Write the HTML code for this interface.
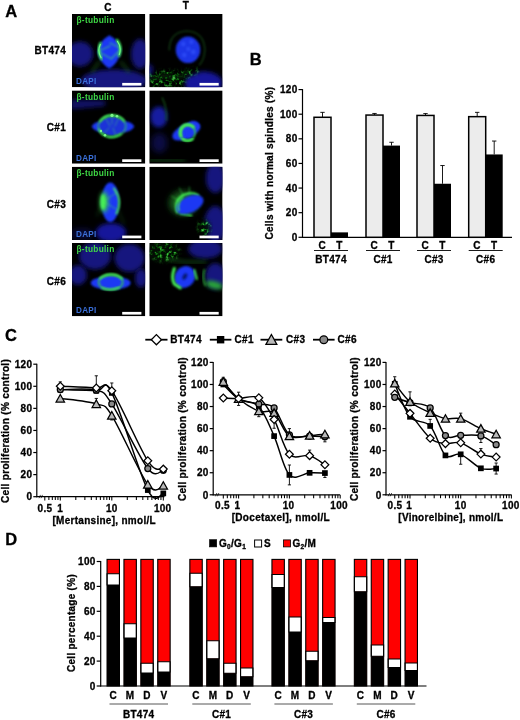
<!DOCTYPE html>
<html lang="en"><head><meta charset="utf-8"><title>Figure</title>
<style>html,body{margin:0;padding:0;background:#fff}svg{display:block}text{font-family:"Liberation Sans",Arial,Helvetica,sans-serif;font-weight:bold;stroke:#000;stroke-width:0.3px;letter-spacing:0.3px}</style>
</head><body>
<svg width="520" height="720" viewBox="0 0 520 720">
<rect width="520" height="720" fill="#fff"/>
<defs>
<filter id="b1" x="-50%" y="-50%" width="200%" height="200%"><feGaussianBlur stdDeviation="1"/></filter>
<filter id="b2" x="-50%" y="-50%" width="200%" height="200%"><feGaussianBlur stdDeviation="2"/></filter>
<filter id="b3" x="-50%" y="-50%" width="200%" height="200%"><feGaussianBlur stdDeviation="3"/></filter>
<filter id="b4" x="-50%" y="-50%" width="200%" height="200%"><feGaussianBlur stdDeviation="4.5"/></filter>
<filter id="b08" x="-50%" y="-50%" width="200%" height="200%"><feGaussianBlur stdDeviation="0.85"/></filter>
<filter id="spk" x="-20%" y="-20%" width="140%" height="140%" color-interpolation-filters="sRGB"><feGaussianBlur in="SourceGraphic" stdDeviation="2" result="m"/><feTurbulence type="fractalNoise" baseFrequency="0.3" numOctaves="2" seed="7" result="n"/><feColorMatrix in="n" type="matrix" values="0 1.6 0 0 -0.92  0 3.0 0 0 -1.38  0 1.6 0 0 -0.92  0 0 0 0 1" result="c"/><feGaussianBlur in="c" stdDeviation="0.6" result="cb"/><feComposite in="cb" in2="m" operator="in"/></filter>
<filter id="b05" x="-50%" y="-50%" width="200%" height="200%"><feGaussianBlur stdDeviation="0.6"/></filter>
</defs>
<text x="5.2" y="17.2" font-size="16.5" text-anchor="start" fill="#000" >A</text>
<text x="108" y="11" font-size="10" text-anchor="middle" fill="#000" >C</text>
<text x="186" y="9" font-size="10" text-anchor="middle" fill="#000" >T</text>
<text x="66" y="53.8" font-size="10" text-anchor="end" fill="#000" >BT474</text>
<text x="66" y="131.4" font-size="10" text-anchor="end" fill="#000" >C#1</text>
<text x="66" y="208.29999999999998" font-size="10" text-anchor="end" fill="#000" >C#3</text>
<text x="66" y="284.5" font-size="10" text-anchor="end" fill="#000" >C#6</text>
<clipPath id="tc"><rect x="0" y="0" width="73.3" height="73.3"/></clipPath>
<g transform="translate(72,14)" clip-path="url(#tc)">
<rect x="0" y="0" width="73.3" height="73.3" fill="#000"/>
<g transform="translate(0,0)">
<ellipse cx="8" cy="40" rx="13" ry="12.5" fill="#13187e" opacity="1" filter="url(#b2)"/>
<ellipse cx="68" cy="40" rx="9" ry="15" fill="#13187e" opacity="1" filter="url(#b2)"/>
<ellipse cx="42" cy="66.5" rx="33" ry="11" fill="#13187e" opacity="1" filter="url(#b2)"/>
<path d="M27,48 L20,58" fill="none" stroke="#1f6a22" stroke-width="2" opacity="0.8" filter="url(#b2)" stroke-linecap="round" stroke-linejoin="round"/>
<path d="M49,48 L57,58" fill="none" stroke="#1f6a22" stroke-width="2" opacity="0.8" filter="url(#b2)" stroke-linecap="round" stroke-linejoin="round"/>
<path d="M37.3,22 Q47,26 48.5,36 Q46,50 37.3,54 Q29,50 26,38 Q28,26 37.3,22Z" fill="#1c38f4" stroke="#1c38f4" stroke-width="1" opacity="1" filter="url(#b1)" stroke-linecap="round" stroke-linejoin="round"/>
<path d="M28.5,29 Q24.5,37 29.5,45" fill="none" stroke="#46f056" stroke-width="2.4" opacity="1" filter="url(#b08)" stroke-linecap="round" stroke-linejoin="round"/>
<path d="M45,26 Q50.5,33 47,42" fill="none" stroke="#46f056" stroke-width="2.4" opacity="1" filter="url(#b08)" stroke-linecap="round" stroke-linejoin="round"/>
<path d="M28.3,30.5 Q25.2,37 29,43.5" fill="none" stroke="#78ff88" stroke-width="1.2" opacity="1" filter="url(#b05)" stroke-linecap="round" stroke-linejoin="round"/>
<path d="M45.5,27.5 Q49.8,33 47.3,40.5" fill="none" stroke="#78ff88" stroke-width="1.2" opacity="1" filter="url(#b05)" stroke-linecap="round" stroke-linejoin="round"/>
<path d="M27,37 L38,32 M27,38 L38,44 M48,34 L38,29 M48,36 L39,45" fill="none" stroke="#46f056" stroke-width="1.2" opacity="0.6" filter="url(#b08)" stroke-linecap="round" stroke-linejoin="round"/>
</g>
<text x="4.5" y="9.3" font-size="9" text-anchor="start" fill="#3fd845" textLength="38" lengthAdjust="spacingAndGlyphs" filter="url(#b05)" style="stroke:none">β-tubulin</text>
<text x="4" y="70.3" font-size="9" text-anchor="start" fill="#3a6fd8" textLength="20.5" lengthAdjust="spacingAndGlyphs" filter="url(#b05)" style="stroke:none">DAPI</text>
<rect x="50.2" y="68.9" width="19.2" height="2.7" fill="#fff"/>
</g>
<g transform="translate(149.3,14)" clip-path="url(#tc)">
<rect x="0" y="0" width="73.3" height="73.3" fill="#000"/>
<g transform="translate(0,0)">
<ellipse cx="54" cy="69" rx="19" ry="11.5" fill="#14199a" opacity="1" filter="url(#b2)"/>
<ellipse cx="0" cy="57" rx="4" ry="7" fill="#13187e" opacity="0.9" filter="url(#b2)"/>
<path d="M20,36 Q20,18 37.5,17 Q55,18 55.5,36 Q55,46 50,51" fill="none" stroke="#2a8a2e" stroke-width="1.2" opacity="0.5" filter="url(#b1)" stroke-linecap="round" stroke-linejoin="round"/>
<ellipse cx="38.7" cy="35.8" rx="12.3" ry="13.3" fill="#1a34e6" opacity="1" filter="url(#b1)"/>
<g fill="#3858ff" filter="url(#b1)" opacity="0.6"><circle cx="34" cy="30" r="2.2"/><circle cx="42" cy="28" r="2"/><circle cx="44" cy="38" r="2.4"/><circle cx="35" cy="41" r="2.2"/><circle cx="39" cy="35" r="2"/></g>
<path d="M0,60 L14,57 L30,58 L48,54 L50,58 L36,64 L34,73 L0,73Z" fill="#fff" filter="url(#spk)" opacity="0.72"/>
<path d="M0,66 L14,62 L28,64 L40,58" fill="none" stroke="#1f6a22" stroke-width="3" opacity="0.45" filter="url(#b2)" stroke-linecap="round" stroke-linejoin="round"/>
</g>
<rect x="50.2" y="68.9" width="19.2" height="2.7" fill="#fff"/>
</g>
<g transform="translate(72,90.4)" clip-path="url(#tc)">
<rect x="0" y="0" width="73.3" height="73.3" fill="#000"/>
<g transform="translate(0,-0.4)">
<path d="M0,10 L30,11 Q38,13 30,16 L0,19Z" fill="#13187e" stroke="#13187e" stroke-width="1" opacity="0.8" filter="url(#b2)" stroke-linecap="round" stroke-linejoin="round"/>
<ellipse cx="41" cy="36.6" rx="21" ry="6.8" fill="#1c38f4" opacity="1" filter="url(#b1)"/>
<ellipse cx="40" cy="36" rx="12.5" ry="10" fill="#1a30d8" opacity="1" filter="url(#b1)"/>
<ellipse cx="40" cy="36.3" rx="13.7" ry="10.9" fill="none" stroke="#38c846" stroke-width="1.5" opacity="0.75" filter="url(#b1)"/>
<path d="M28,31.5 Q32,25.7 40,25.3 Q48,25.7 52,31" fill="none" stroke="#46f056" stroke-width="2.0" opacity="1" filter="url(#b08)" stroke-linecap="round" stroke-linejoin="round"/>
<path d="M27,39.5 Q29,45 37,47 Q44,47.5 49,43.8" fill="none" stroke="#46f056" stroke-width="1.8" opacity="1" filter="url(#b08)" stroke-linecap="round" stroke-linejoin="round"/>
<path d="M33,27 L38,36 M40,25 L40,34 M47,27 L43,36 M31,44 L37,38 M44,46 L41,38" fill="none" stroke="#46f056" stroke-width="0.9" opacity="0.5" filter="url(#b08)" stroke-linecap="round" stroke-linejoin="round"/>
<g fill="#7cf88a" filter="url(#b05)"><circle cx="40" cy="25.4" r="1.6"/><circle cx="45" cy="26.2" r="1.3"/><circle cx="33" cy="45.3" r="1.3"/><circle cx="29" cy="41" r="1.2"/></g>
</g>
<text x="4.5" y="9.3" font-size="9" text-anchor="start" fill="#3fd845" textLength="38" lengthAdjust="spacingAndGlyphs" filter="url(#b05)" style="stroke:none">β-tubulin</text>
<text x="4" y="70.3" font-size="9" text-anchor="start" fill="#3a6fd8" textLength="20.5" lengthAdjust="spacingAndGlyphs" filter="url(#b05)" style="stroke:none">DAPI</text>
<rect x="50.2" y="68.9" width="19.2" height="2.7" fill="#fff"/>
</g>
<g transform="translate(149.3,90.4)" clip-path="url(#tc)">
<rect x="0" y="0" width="73.3" height="73.3" fill="#000"/>
<g transform="translate(0,-0.4)">
<ellipse cx="9.5" cy="27" rx="8.5" ry="10.5" fill="#161ca0" opacity="1" filter="url(#b2)"/>
<ellipse cx="10" cy="53" rx="8" ry="10" fill="#13187e" opacity="0.55" filter="url(#b3)"/>
<path d="M13,8 Q18,18 17,30" fill="none" stroke="#1f6a22" stroke-width="1.5" opacity="0.7" filter="url(#b1)" stroke-linecap="round" stroke-linejoin="round"/>
<path d="M0,70 L35,71" fill="none" stroke="#1f6a22" stroke-width="2.5" opacity="0.7" filter="url(#b2)" stroke-linecap="round" stroke-linejoin="round"/>
<ellipse cx="37" cy="41.5" rx="15" ry="7" fill="#1c38f4" opacity="1" filter="url(#b1)" transform="rotate(-25 37 41.5)"/>
<ellipse cx="44" cy="36" rx="6" ry="5" fill="#1c38f4" opacity="1" filter="url(#b1)"/>
<ellipse cx="38.2" cy="42.7" rx="7.3" ry="8" fill="none" stroke="#3ad048" stroke-width="2.0" opacity="0.9" filter="url(#b1)"/>
<path d="M31.5,46 Q29.5,39 35,35.5 Q40,33.5 44,37" fill="none" stroke="#46f056" stroke-width="3" opacity="1" filter="url(#b08)" stroke-linecap="round" stroke-linejoin="round"/>
<path d="M33,49 Q38,52.5 43,49" fill="none" stroke="#46f056" stroke-width="2.6" opacity="1" filter="url(#b08)" stroke-linecap="round" stroke-linejoin="round"/>
<ellipse cx="39.5" cy="43" rx="4.6" ry="5.2" fill="#1c38f4" opacity="1" filter="url(#b1)"/>
</g>
<rect x="50.2" y="68.9" width="19.2" height="2.7" fill="#fff"/>
</g>
<g transform="translate(72,166.7)" clip-path="url(#tc)">
<rect x="0" y="0" width="73.3" height="73.3" fill="#000"/>
<g transform="translate(0,-0.7)">
<ellipse cx="39" cy="66.5" rx="15" ry="9.5" fill="#14199a" opacity="1" filter="url(#b2)"/>
<ellipse cx="10" cy="68" rx="12" ry="5" fill="#13187e" opacity="0.5" filter="url(#b3)"/>
<path d="M33,30 L25,50 M46,44 L52,58" fill="none" stroke="#1f6a22" stroke-width="1.5" opacity="0.5" filter="url(#b2)" stroke-linecap="round" stroke-linejoin="round"/>
<ellipse cx="38.3" cy="36.2" rx="8.8" ry="19.8" fill="#1c38f4" opacity="1" filter="url(#b1)"/>
<ellipse cx="32" cy="36" rx="4.2" ry="10.5" fill="#3ad048" opacity="0.9" filter="url(#b2)"/>
<ellipse cx="31" cy="36" rx="2.4" ry="7.5" fill="#46f056" opacity="1" filter="url(#b1)"/>
<path d="M42,22.5 Q51,34.5 44.5,47.5" fill="none" stroke="#46f056" stroke-width="1.9" opacity="1" filter="url(#b08)" stroke-linecap="round" stroke-linejoin="round"/>
<path d="M32,35 L44,27 M32,36 L44,43" fill="none" stroke="#46f056" stroke-width="1" opacity="0.5" filter="url(#b1)" stroke-linecap="round" stroke-linejoin="round"/>
</g>
<text x="4.5" y="9.3" font-size="9" text-anchor="start" fill="#3fd845" textLength="38" lengthAdjust="spacingAndGlyphs" filter="url(#b05)" style="stroke:none">β-tubulin</text>
<text x="4" y="70.3" font-size="9" text-anchor="start" fill="#3a6fd8" textLength="20.5" lengthAdjust="spacingAndGlyphs" filter="url(#b05)" style="stroke:none">DAPI</text>
<rect x="50.2" y="68.9" width="19.2" height="2.7" fill="#fff"/>
</g>
<g transform="translate(149.3,166.7)" clip-path="url(#tc)">
<rect x="0" y="0" width="73.3" height="73.3" fill="#000"/>
<g transform="translate(0,-0.7)">
<ellipse cx="66" cy="12" rx="9.5" ry="15" fill="#13187e" opacity="1" filter="url(#b2)"/>
<ellipse cx="66" cy="58" rx="11" ry="18" fill="#13187e" opacity="1" filter="url(#b2)"/>
<ellipse cx="55" cy="62" rx="5" ry="6" fill="#1f6a22" opacity="0.5" filter="url(#b2)"/>
<ellipse cx="55" cy="62" rx="6" ry="8" fill="#fff" filter="url(#spk)" opacity="0.8"/>
<ellipse cx="34" cy="37" rx="14" ry="12" fill="#1f6a22" opacity="0.9" filter="url(#b3)"/>
<path d="M28,46.5 Q24,35 34,29 Q43,25.5 49,29.5" fill="none" stroke="#46f056" stroke-width="2.2" opacity="1" filter="url(#b1)" stroke-linecap="round" stroke-linejoin="round"/>
<path d="M31,47.5 L42,49.5" fill="none" stroke="#46f056" stroke-width="2.2" opacity="0.9" filter="url(#b1)" stroke-linecap="round" stroke-linejoin="round"/>
<path d="M22,30 L30,35 M30,22 L34,30 M40,21 L40,28" fill="none" stroke="#46f056" stroke-width="1" opacity="0.5" filter="url(#b1)" stroke-linecap="round" stroke-linejoin="round"/>
<ellipse cx="40.5" cy="38.5" rx="14.5" ry="8.3" fill="#1c38f4" opacity="1" filter="url(#b1)" transform="rotate(-25 40.5 38.5)"/>
<path d="M29.5,44.5 Q27.5,36.5 33.5,31.5" fill="none" stroke="#46f056" stroke-width="1.6" opacity="0.95" filter="url(#b08)" stroke-linecap="round" stroke-linejoin="round"/>
</g>
<rect x="50.2" y="68.9" width="19.2" height="2.7" fill="#fff"/>
</g>
<g transform="translate(72,243)" clip-path="url(#tc)">
<rect x="0" y="0" width="73.3" height="73.3" fill="#000"/>
<g transform="translate(0,-1.0)">
<ellipse cx="23" cy="14" rx="16" ry="13.5" fill="#13187e" opacity="1" filter="url(#b2)"/>
<ellipse cx="57.5" cy="16" rx="15" ry="14" fill="#13187e" opacity="1" filter="url(#b2)"/>
<ellipse cx="6" cy="33" rx="9" ry="10" fill="#13187e" opacity="1" filter="url(#b2)"/>
<ellipse cx="69" cy="36" rx="6" ry="9.5" fill="#13187e" opacity="1" filter="url(#b2)"/>
<ellipse cx="38.7" cy="41" rx="20" ry="6.6" fill="#1c38f4" opacity="1" filter="url(#b1)"/>
<ellipse cx="38.7" cy="40.5" rx="11" ry="7" fill="#1c38f4" opacity="1" filter="url(#b1)"/>
<ellipse cx="38.7" cy="40.2" rx="12.0" ry="7.6" fill="none" stroke="#3ad048" stroke-width="1.6" opacity="0.9" filter="url(#b1)"/>
<path d="M28,36.5 Q33,32.5 39,32.5 Q46,32.5 50,36.5" fill="none" stroke="#46f056" stroke-width="2.0" opacity="1" filter="url(#b08)" stroke-linecap="round" stroke-linejoin="round"/>
<path d="M30,46 Q38,49.5 47,45.5" fill="none" stroke="#46f056" stroke-width="1.8" opacity="1" filter="url(#b08)" stroke-linecap="round" stroke-linejoin="round"/>
</g>
<text x="4.5" y="9.3" font-size="9" text-anchor="start" fill="#3fd845" textLength="38" lengthAdjust="spacingAndGlyphs" filter="url(#b05)" style="stroke:none">β-tubulin</text>
<text x="4" y="70.3" font-size="9" text-anchor="start" fill="#3a6fd8" textLength="20.5" lengthAdjust="spacingAndGlyphs" filter="url(#b05)" style="stroke:none">DAPI</text>
<rect x="50.2" y="68.9" width="19.2" height="2.7" fill="#fff"/>
</g>
<g transform="translate(149.3,243)" clip-path="url(#tc)">
<rect x="0" y="0" width="73.3" height="73.3" fill="#000"/>
<g transform="translate(0,-1.0)">
<ellipse cx="56" cy="7" rx="17" ry="9.5" fill="#13187e" opacity="1" filter="url(#b2)"/>
<ellipse cx="66" cy="34" rx="10" ry="13" fill="#13187e" opacity="1" filter="url(#b2)"/>
<ellipse cx="14" cy="10" rx="14" ry="8" fill="#1f6a22" opacity="0.45" filter="url(#b3)"/>
<ellipse cx="15" cy="10" rx="15" ry="9" fill="#fff" filter="url(#spk)" opacity="0.7"/>
<path d="M18,17 L35,20 L56,20" fill="none" stroke="#1f6a22" stroke-width="2.5" opacity="0.7" filter="url(#b2)" stroke-linecap="round" stroke-linejoin="round"/>
<ellipse cx="65" cy="43" rx="9" ry="3.5" fill="#2cb032" opacity="1" filter="url(#b2)" transform="rotate(15 65 43)"/>
<path d="M55,28 Q52.5,36 56,43" fill="none" stroke="#2a9a30" stroke-width="2" opacity="0.9" filter="url(#b1)" stroke-linecap="round" stroke-linejoin="round"/>
<ellipse cx="35.5" cy="35" rx="10" ry="11.2" fill="#1c38f4" opacity="1" filter="url(#b1)" transform="rotate(35 35.5 35)"/>
<ellipse cx="35.5" cy="34.5" rx="1.8" ry="3.5" fill="#05104a" opacity="0.85" filter="url(#b1)" transform="rotate(30 35.5 34.5)"/>
<path d="M25,26.5 Q21.5,36 25,42 L31,46" fill="none" stroke="#46f056" stroke-width="3" opacity="1" filter="url(#b1)" stroke-linecap="round" stroke-linejoin="round"/>
<path d="M45,28 L47.5,37" fill="none" stroke="#46f056" stroke-width="2.2" opacity="0.9" filter="url(#b1)" stroke-linecap="round" stroke-linejoin="round"/>
</g>
<rect x="50.2" y="68.9" width="19.2" height="2.7" fill="#fff"/>
</g>
<text x="249.7" y="65" font-size="16.5" text-anchor="start" fill="#000" >B</text>
<line x1="302.5" y1="89.08000000000001" x2="302.5" y2="237.8" stroke="#000" stroke-width="1.2" />
<line x1="302.0" y1="237.3" x2="512" y2="237.3" stroke="#000" stroke-width="1.2" />
<line x1="298.5" y1="237.3" x2="302.5" y2="237.3" stroke="#000" stroke-width="1.2" />
<text x="297.5" y="240.9" font-size="10" text-anchor="end" fill="#000" >0</text>
<line x1="298.5" y1="212.68" x2="302.5" y2="212.68" stroke="#000" stroke-width="1.2" />
<text x="297.5" y="216.28" font-size="10" text-anchor="end" fill="#000" >20</text>
<line x1="298.5" y1="188.06" x2="302.5" y2="188.06" stroke="#000" stroke-width="1.2" />
<text x="297.5" y="191.66" font-size="10" text-anchor="end" fill="#000" >40</text>
<line x1="298.5" y1="163.44" x2="302.5" y2="163.44" stroke="#000" stroke-width="1.2" />
<text x="297.5" y="167.04" font-size="10" text-anchor="end" fill="#000" >60</text>
<line x1="298.5" y1="138.82" x2="302.5" y2="138.82" stroke="#000" stroke-width="1.2" />
<text x="297.5" y="142.42" font-size="10" text-anchor="end" fill="#000" >80</text>
<line x1="298.5" y1="114.2" x2="302.5" y2="114.2" stroke="#000" stroke-width="1.2" />
<text x="297.5" y="117.8" font-size="10" text-anchor="end" fill="#000" >100</text>
<line x1="298.5" y1="89.58000000000001" x2="302.5" y2="89.58000000000001" stroke="#000" stroke-width="1.2" />
<text x="297.5" y="93.18" font-size="10" text-anchor="end" fill="#000" >120</text>
<text transform="translate(273.3,163.1) rotate(-90)" font-size="10" text-anchor="middle" textLength="153" lengthAdjust="spacingAndGlyphs">Cells with normal spindles (%)</text>
<line x1="322.5" y1="117.2775" x2="322.5" y2="112.3535" stroke="#000" stroke-width="0.9" />
<line x1="320.3" y1="112.3535" x2="324.7" y2="112.3535" stroke="#000" stroke-width="0.9" />
<rect x="314.00" y="117.28" width="17.00" height="120.02" fill="#ececec" stroke="#000" stroke-width="1.5"/>
<rect x="331.00" y="232.38" width="17.00" height="4.92" fill="#000"/>
<text x="322.3" y="249" font-size="10" text-anchor="middle" fill="#000" >C</text>
<text x="339.5" y="249" font-size="10" text-anchor="middle" fill="#000" >T</text>
<line x1="314" y1="250.5" x2="348" y2="250.5" stroke="#000" stroke-width="0.9" />
<text x="331" y="263.3" font-size="10" text-anchor="middle" fill="#000" >BT474</text>
<line x1="374.5" y1="115.0617" x2="374.5" y2="113.46140000000001" stroke="#000" stroke-width="0.9" />
<line x1="372.3" y1="113.46140000000001" x2="376.7" y2="113.46140000000001" stroke="#000" stroke-width="0.9" />
<rect x="366.00" y="115.06" width="17.00" height="122.24" fill="#ececec" stroke="#000" stroke-width="1.5"/>
<line x1="391.5" y1="145.59050000000002" x2="391.5" y2="142.2668" stroke="#000" stroke-width="0.9" />
<line x1="389.3" y1="142.2668" x2="393.7" y2="142.2668" stroke="#000" stroke-width="0.9" />
<rect x="383.00" y="145.59" width="17.00" height="91.71" fill="#000"/>
<text x="374.3" y="249" font-size="10" text-anchor="middle" fill="#000" >C</text>
<text x="391.5" y="249" font-size="10" text-anchor="middle" fill="#000" >T</text>
<line x1="366" y1="250.5" x2="400" y2="250.5" stroke="#000" stroke-width="0.9" />
<text x="383" y="263.3" font-size="10" text-anchor="middle" fill="#000" >C#1</text>
<line x1="425.5" y1="115.431" x2="425.5" y2="113.5845" stroke="#000" stroke-width="0.9" />
<line x1="423.3" y1="113.5845" x2="427.7" y2="113.5845" stroke="#000" stroke-width="0.9" />
<rect x="417.00" y="115.43" width="17.00" height="121.87" fill="#ececec" stroke="#000" stroke-width="1.5"/>
<line x1="442.5" y1="183.75150000000002" x2="442.5" y2="165.5327" stroke="#000" stroke-width="0.9" />
<line x1="440.3" y1="165.5327" x2="444.7" y2="165.5327" stroke="#000" stroke-width="0.9" />
<rect x="434.00" y="183.75" width="17.00" height="53.55" fill="#000"/>
<text x="425.3" y="249" font-size="10" text-anchor="middle" fill="#000" >C</text>
<text x="442.5" y="249" font-size="10" text-anchor="middle" fill="#000" >T</text>
<line x1="417" y1="250.5" x2="451" y2="250.5" stroke="#000" stroke-width="0.9" />
<text x="434" y="263.3" font-size="10" text-anchor="middle" fill="#000" >C#3</text>
<line x1="477.2" y1="116.662" x2="477.2" y2="112.3535" stroke="#000" stroke-width="0.9" />
<line x1="475.0" y1="112.3535" x2="479.4" y2="112.3535" stroke="#000" stroke-width="0.9" />
<rect x="468.70" y="116.66" width="17.00" height="120.64" fill="#ececec" stroke="#000" stroke-width="1.5"/>
<line x1="494.2" y1="154.45370000000003" x2="494.2" y2="141.0358" stroke="#000" stroke-width="0.9" />
<line x1="492.0" y1="141.0358" x2="496.4" y2="141.0358" stroke="#000" stroke-width="0.9" />
<rect x="485.70" y="154.45" width="17.00" height="82.85" fill="#000"/>
<text x="477.0" y="249" font-size="10" text-anchor="middle" fill="#000" >C</text>
<text x="494.2" y="249" font-size="10" text-anchor="middle" fill="#000" >T</text>
<line x1="468.7" y1="250.5" x2="502.7" y2="250.5" stroke="#000" stroke-width="0.9" />
<text x="485.7" y="263.3" font-size="10" text-anchor="middle" fill="#000" >C#6</text>
<text x="5" y="341" font-size="16.5" text-anchor="start" fill="#000" >C</text>
<line x1="145.3" y1="339.7" x2="167.5" y2="339.7" stroke="#000" stroke-width="1.8" />
<path d="M151.33,339.70L156.40,334.63L161.47,339.70L156.40,344.77Z" fill="#fff" stroke="#000" stroke-width="1.25"/>
<text x="170.3" y="343.3" font-size="10" text-anchor="start" fill="#000" >BT474</text>
<line x1="209.8" y1="339.7" x2="231.4" y2="339.7" stroke="#000" stroke-width="1.8" />
<rect x="216.90" y="336.00" width="7.41" height="7.41" fill="#000"/>
<text x="234.5" y="343.3" font-size="10" text-anchor="start" fill="#000" >C#1</text>
<line x1="260.5" y1="339.7" x2="282.3" y2="339.7" stroke="#000" stroke-width="1.8" />
<path d="M265.94,344.34L271.40,334.51L276.86,344.34Z" fill="#b9b9b9" stroke="#000" stroke-width="1.25"/>
<text x="286" y="343.3" font-size="10" text-anchor="start" fill="#000" >C#3</text>
<line x1="313" y1="339.7" x2="334.6" y2="339.7" stroke="#000" stroke-width="1.8" />
<circle cx="323.80" cy="339.70" r="3.90" fill="#8a8a8a" stroke="#000" stroke-width="1.25"/>
<text x="337.5" y="343.3" font-size="10" text-anchor="start" fill="#000" >C#6</text>
<line x1="36.8" y1="363.7" x2="36.8" y2="497.2" stroke="#000" stroke-width="1.2" />
<line x1="36.3" y1="496.7" x2="164.5" y2="496.7" stroke="#000" stroke-width="1.2" />
<line x1="33.3" y1="496.7" x2="36.8" y2="496.7" stroke="#000" stroke-width="1.2" />
<text x="32.3" y="500.4" font-size="10" text-anchor="end" fill="#000" >0</text>
<line x1="33.3" y1="474.6166666666667" x2="36.8" y2="474.6166666666667" stroke="#000" stroke-width="1.2" />
<text x="32.3" y="478.31666666666666" font-size="10" text-anchor="end" fill="#000" >20</text>
<line x1="33.3" y1="452.5333333333333" x2="36.8" y2="452.5333333333333" stroke="#000" stroke-width="1.2" />
<text x="32.3" y="456.2333333333333" font-size="10" text-anchor="end" fill="#000" >40</text>
<line x1="33.3" y1="430.45" x2="36.8" y2="430.45" stroke="#000" stroke-width="1.2" />
<text x="32.3" y="434.15" font-size="10" text-anchor="end" fill="#000" >60</text>
<line x1="33.3" y1="408.3666666666667" x2="36.8" y2="408.3666666666667" stroke="#000" stroke-width="1.2" />
<text x="32.3" y="412.06666666666666" font-size="10" text-anchor="end" fill="#000" >80</text>
<line x1="33.3" y1="386.2833333333333" x2="36.8" y2="386.2833333333333" stroke="#000" stroke-width="1.2" />
<text x="32.3" y="389.9833333333333" font-size="10" text-anchor="end" fill="#000" >100</text>
<line x1="33.3" y1="364.2" x2="36.8" y2="364.2" stroke="#000" stroke-width="1.2" />
<text x="32.3" y="367.9" font-size="10" text-anchor="end" fill="#000" >120</text>
<line x1="39.0" y1="498.2" x2="40.5" y2="494.9" stroke="#000" stroke-width="0.7" />
<line x1="41.0" y1="498.2" x2="42.5" y2="494.9" stroke="#000" stroke-width="0.7" />
<line x1="44.79695522330496" y1="496.7" x2="44.79695522330496" y2="500.5" stroke="#000" stroke-width="1.05" />
<line x1="48.87478939475764" y1="496.7" x2="48.87478939475764" y2="500.09999999999997" stroke="#000" stroke-width="1.05" />
<line x1="52.322549060734225" y1="496.7" x2="52.322549060734225" y2="500.09999999999997" stroke="#000" stroke-width="1.05" />
<line x1="55.309134330085094" y1="496.7" x2="55.309134330085094" y2="500.09999999999997" stroke="#000" stroke-width="1.05" />
<line x1="57.94348923612523" y1="496.7" x2="57.94348923612523" y2="500.09999999999997" stroke="#000" stroke-width="1.05" />
<line x1="60.3" y1="496.7" x2="60.3" y2="500.5" stroke="#000" stroke-width="1.05" />
<line x1="75.80304477669503" y1="496.7" x2="75.80304477669503" y2="500.09999999999997" stroke="#000" stroke-width="1.05" />
<line x1="84.87174461806262" y1="496.7" x2="84.87174461806262" y2="500.09999999999997" stroke="#000" stroke-width="1.05" />
<line x1="91.30608955339005" y1="496.7" x2="91.30608955339005" y2="500.09999999999997" stroke="#000" stroke-width="1.05" />
<line x1="96.29695522330496" y1="496.7" x2="96.29695522330496" y2="500.09999999999997" stroke="#000" stroke-width="1.05" />
<line x1="100.37478939475764" y1="496.7" x2="100.37478939475764" y2="500.09999999999997" stroke="#000" stroke-width="1.05" />
<line x1="103.82254906073422" y1="496.7" x2="103.82254906073422" y2="500.09999999999997" stroke="#000" stroke-width="1.05" />
<line x1="106.80913433008509" y1="496.7" x2="106.80913433008509" y2="500.09999999999997" stroke="#000" stroke-width="1.05" />
<line x1="109.44348923612523" y1="496.7" x2="109.44348923612523" y2="500.09999999999997" stroke="#000" stroke-width="1.05" />
<line x1="111.8" y1="496.7" x2="111.8" y2="500.5" stroke="#000" stroke-width="1.05" />
<line x1="127.30304477669503" y1="496.7" x2="127.30304477669503" y2="500.09999999999997" stroke="#000" stroke-width="1.05" />
<line x1="136.37174461806262" y1="496.7" x2="136.37174461806262" y2="500.09999999999997" stroke="#000" stroke-width="1.05" />
<line x1="142.80608955339005" y1="496.7" x2="142.80608955339005" y2="500.09999999999997" stroke="#000" stroke-width="1.05" />
<line x1="147.79695522330496" y1="496.7" x2="147.79695522330496" y2="500.09999999999997" stroke="#000" stroke-width="1.05" />
<line x1="151.87478939475764" y1="496.7" x2="151.87478939475764" y2="500.09999999999997" stroke="#000" stroke-width="1.05" />
<line x1="155.32254906073422" y1="496.7" x2="155.32254906073422" y2="500.09999999999997" stroke="#000" stroke-width="1.05" />
<line x1="158.3091343300851" y1="496.7" x2="158.3091343300851" y2="500.09999999999997" stroke="#000" stroke-width="1.05" />
<line x1="160.94348923612523" y1="496.7" x2="160.94348923612523" y2="500.09999999999997" stroke="#000" stroke-width="1.05" />
<line x1="163.3" y1="496.7" x2="163.3" y2="500.5" stroke="#000" stroke-width="1.05" />
<text x="44.996955223304965" y="511.59999999999997" font-size="10" text-anchor="middle" fill="#000" >0.5</text>
<text x="60.3" y="511.59999999999997" font-size="10" text-anchor="middle" fill="#000" >1</text>
<text x="111.8" y="511.59999999999997" font-size="10" text-anchor="middle" fill="#000" >10</text>
<text x="162.70000000000002" y="511.59999999999997" font-size="10" text-anchor="middle" fill="#000" >100</text>
<text x="104.2" y="523.7" font-size="10" text-anchor="middle" fill="#000" textLength="103.5" lengthAdjust="spacingAndGlyphs" >[Mertansine], nmol/L</text>
<text transform="translate(9.4,430.95) rotate(-90)" font-size="10" text-anchor="middle" textLength="144" lengthAdjust="spacingAndGlyphs">Cell proliferation (% control)</text>
<line x1="96.29695522330496" y1="387.9395833333333" x2="96.29695522330496" y2="375.79375" stroke="#000" stroke-width="0.9" />
<line x1="94.69695522330497" y1="375.79375" x2="97.89695522330496" y2="375.79375" stroke="#000" stroke-width="0.9" />
<line x1="111.8" y1="390.7" x2="111.8" y2="382.9708333333333" stroke="#000" stroke-width="0.9" />
<line x1="110.2" y1="382.9708333333333" x2="113.39999999999999" y2="382.9708333333333" stroke="#000" stroke-width="0.9" />
<line x1="60.3" y1="386.2833333333333" x2="60.3" y2="381.8666666666667" stroke="#000" stroke-width="0.9" />
<line x1="58.699999999999996" y1="381.8666666666667" x2="61.9" y2="381.8666666666667" stroke="#000" stroke-width="0.9" />
<line x1="96.29695522330496" y1="403.95" x2="96.29695522330496" y2="398.4291666666667" stroke="#000" stroke-width="0.9" />
<line x1="94.69695522330497" y1="398.4291666666667" x2="97.89695522330496" y2="398.4291666666667" stroke="#000" stroke-width="0.9" />
<line x1="111.8" y1="415.54375" x2="111.8" y2="419.9604166666667" stroke="#000" stroke-width="0.9" />
<line x1="110.2" y1="419.9604166666667" x2="113.39999999999999" y2="419.9604166666667" stroke="#000" stroke-width="0.9" />
<path d="M60.30,389.60C66.30,389.78 87.71,390.15 96.30,390.70C104.88,391.25 103.22,376.35 111.80,392.91C120.38,409.47 139.21,473.33 147.80,490.07C156.38,506.82 160.72,492.84 163.30,493.39" fill="none" stroke="#000" stroke-width="1.45"/>
<path d="M60.30,389.60C66.30,389.69 87.71,387.76 96.30,390.15C104.88,392.54 103.22,390.88 111.80,403.95C120.38,417.02 139.21,457.50 147.80,468.54C156.38,479.59 160.72,469.92 163.30,470.20" fill="none" stroke="#000" stroke-width="1.45"/>
<path d="M60.30,398.43C66.30,399.35 87.71,401.10 96.30,403.95C104.88,406.80 103.22,402.11 111.80,415.54C120.38,428.98 139.21,472.87 147.80,484.55C156.38,496.24 160.72,485.47 163.30,485.66" fill="none" stroke="#000" stroke-width="1.45"/>
<path d="M60.30,386.28C66.30,386.56 87.71,387.20 96.30,387.94C104.88,388.68 103.22,378.55 111.80,390.70C120.38,402.85 139.21,447.75 147.80,460.81C156.38,473.88 160.72,467.72 163.30,469.10" fill="none" stroke="#000" stroke-width="1.45"/>
<rect x="57.45" y="386.75" width="5.70" height="5.70" fill="#000"/>
<rect x="93.45" y="387.85" width="5.70" height="5.70" fill="#000"/>
<rect x="108.95" y="390.06" width="5.70" height="5.70" fill="#000"/>
<rect x="144.95" y="487.22" width="5.70" height="5.70" fill="#000"/>
<rect x="160.45" y="490.54" width="5.70" height="5.70" fill="#000"/>
<circle cx="60.30" cy="389.60" r="3.00" fill="#8a8a8a" stroke="#000" stroke-width="1.25"/>
<circle cx="96.30" cy="390.15" r="3.00" fill="#8a8a8a" stroke="#000" stroke-width="1.25"/>
<circle cx="111.80" cy="403.95" r="3.00" fill="#8a8a8a" stroke="#000" stroke-width="1.25"/>
<circle cx="147.80" cy="468.54" r="3.00" fill="#8a8a8a" stroke="#000" stroke-width="1.25"/>
<circle cx="163.30" cy="470.20" r="3.00" fill="#8a8a8a" stroke="#000" stroke-width="1.25"/>
<path d="M56.10,402.00L60.30,394.44L64.50,402.00Z" fill="#b9b9b9" stroke="#000" stroke-width="1.25"/>
<path d="M92.10,407.52L96.30,399.96L100.50,407.52Z" fill="#b9b9b9" stroke="#000" stroke-width="1.25"/>
<path d="M107.60,419.11L111.80,411.55L116.00,419.11Z" fill="#b9b9b9" stroke="#000" stroke-width="1.25"/>
<path d="M143.60,488.12L147.80,480.56L152.00,488.12Z" fill="#b9b9b9" stroke="#000" stroke-width="1.25"/>
<path d="M159.10,489.23L163.30,481.67L167.50,489.23Z" fill="#b9b9b9" stroke="#000" stroke-width="1.25"/>
<path d="M56.40,386.28L60.30,382.38L64.20,386.28L60.30,390.18Z" fill="#fff" stroke="#000" stroke-width="1.25"/>
<path d="M92.40,387.94L96.30,384.04L100.20,387.94L96.30,391.84Z" fill="#fff" stroke="#000" stroke-width="1.25"/>
<path d="M107.90,390.70L111.80,386.80L115.70,390.70L111.80,394.60Z" fill="#fff" stroke="#000" stroke-width="1.25"/>
<path d="M143.90,460.81L147.80,456.91L151.70,460.81L147.80,464.71Z" fill="#fff" stroke="#000" stroke-width="1.25"/>
<path d="M159.40,469.10L163.30,465.20L167.20,469.10L163.30,473.00Z" fill="#fff" stroke="#000" stroke-width="1.25"/>
<line x1="213.2" y1="361.9" x2="213.2" y2="495.3" stroke="#000" stroke-width="1.2" />
<line x1="212.7" y1="494.8" x2="340" y2="494.8" stroke="#000" stroke-width="1.2" />
<line x1="209.7" y1="494.8" x2="213.2" y2="494.8" stroke="#000" stroke-width="1.2" />
<text x="208.7" y="498.5" font-size="10" text-anchor="end" fill="#000" >0</text>
<line x1="209.7" y1="472.73333333333335" x2="213.2" y2="472.73333333333335" stroke="#000" stroke-width="1.2" />
<text x="208.7" y="476.43333333333334" font-size="10" text-anchor="end" fill="#000" >20</text>
<line x1="209.7" y1="450.6666666666667" x2="213.2" y2="450.6666666666667" stroke="#000" stroke-width="1.2" />
<text x="208.7" y="454.3666666666667" font-size="10" text-anchor="end" fill="#000" >40</text>
<line x1="209.7" y1="428.6" x2="213.2" y2="428.6" stroke="#000" stroke-width="1.2" />
<text x="208.7" y="432.3" font-size="10" text-anchor="end" fill="#000" >60</text>
<line x1="209.7" y1="406.5333333333333" x2="213.2" y2="406.5333333333333" stroke="#000" stroke-width="1.2" />
<text x="208.7" y="410.2333333333333" font-size="10" text-anchor="end" fill="#000" >80</text>
<line x1="209.7" y1="384.46666666666664" x2="213.2" y2="384.46666666666664" stroke="#000" stroke-width="1.2" />
<text x="208.7" y="388.16666666666663" font-size="10" text-anchor="end" fill="#000" >100</text>
<line x1="209.7" y1="362.4" x2="213.2" y2="362.4" stroke="#000" stroke-width="1.2" />
<text x="208.7" y="366.09999999999997" font-size="10" text-anchor="end" fill="#000" >120</text>
<line x1="215.39999999999998" y1="496.3" x2="216.89999999999998" y2="493.0" stroke="#000" stroke-width="0.7" />
<line x1="217.39999999999998" y1="496.3" x2="218.89999999999998" y2="493.0" stroke="#000" stroke-width="0.7" />
<line x1="223.30767622026974" y1="494.8" x2="223.30767622026974" y2="498.6" stroke="#000" stroke-width="1.05" />
<line x1="227.33008351948908" y1="494.8" x2="227.33008351948908" y2="498.2" stroke="#000" stroke-width="1.05" />
<line x1="230.73098043272424" y1="494.8" x2="230.73098043272424" y2="498.2" stroke="#000" stroke-width="1.05" />
<line x1="233.67697133919074" y1="494.8" x2="233.67697133919074" y2="498.2" stroke="#000" stroke-width="1.05" />
<line x1="236.2755194795177" y1="494.8" x2="236.2755194795177" y2="498.2" stroke="#000" stroke-width="1.05" />
<line x1="238.6" y1="494.8" x2="238.6" y2="498.6" stroke="#000" stroke-width="1.05" />
<line x1="253.89232377973025" y1="494.8" x2="253.89232377973025" y2="498.2" stroke="#000" stroke-width="1.05" />
<line x1="262.83775973975884" y1="494.8" x2="262.83775973975884" y2="498.2" stroke="#000" stroke-width="1.05" />
<line x1="269.1846475594605" y1="494.8" x2="269.1846475594605" y2="498.2" stroke="#000" stroke-width="1.05" />
<line x1="274.10767622026975" y1="494.8" x2="274.10767622026975" y2="498.2" stroke="#000" stroke-width="1.05" />
<line x1="278.13008351948906" y1="494.8" x2="278.13008351948906" y2="498.2" stroke="#000" stroke-width="1.05" />
<line x1="281.5309804327242" y1="494.8" x2="281.5309804327242" y2="498.2" stroke="#000" stroke-width="1.05" />
<line x1="284.47697133919075" y1="494.8" x2="284.47697133919075" y2="498.2" stroke="#000" stroke-width="1.05" />
<line x1="287.0755194795177" y1="494.8" x2="287.0755194795177" y2="498.2" stroke="#000" stroke-width="1.05" />
<line x1="289.4" y1="494.8" x2="289.4" y2="498.6" stroke="#000" stroke-width="1.05" />
<line x1="304.69232377973026" y1="494.8" x2="304.69232377973026" y2="498.2" stroke="#000" stroke-width="1.05" />
<line x1="313.63775973975885" y1="494.8" x2="313.63775973975885" y2="498.2" stroke="#000" stroke-width="1.05" />
<line x1="319.9846475594605" y1="494.8" x2="319.9846475594605" y2="498.2" stroke="#000" stroke-width="1.05" />
<line x1="324.90767622026976" y1="494.8" x2="324.90767622026976" y2="498.2" stroke="#000" stroke-width="1.05" />
<line x1="328.9300835194891" y1="494.8" x2="328.9300835194891" y2="498.2" stroke="#000" stroke-width="1.05" />
<line x1="332.33098043272423" y1="494.8" x2="332.33098043272423" y2="498.2" stroke="#000" stroke-width="1.05" />
<line x1="335.2769713391907" y1="494.8" x2="335.2769713391907" y2="498.2" stroke="#000" stroke-width="1.05" />
<line x1="337.8755194795177" y1="494.8" x2="337.8755194795177" y2="498.2" stroke="#000" stroke-width="1.05" />
<line x1="340.2" y1="494.8" x2="340.2" y2="498.6" stroke="#000" stroke-width="1.05" />
<text x="222.50767622026973" y="509.2" font-size="10" text-anchor="middle" fill="#000" >0.5</text>
<text x="237.4" y="509.2" font-size="10" text-anchor="middle" fill="#000" >1</text>
<text x="288.5" y="509.2" font-size="10" text-anchor="middle" fill="#000" >10</text>
<text x="339.09999999999997" y="509.2" font-size="10" text-anchor="middle" fill="#000" >100</text>
<text x="280.8" y="521.3000000000001" font-size="10" text-anchor="middle" fill="#000" textLength="98.3" lengthAdjust="spacingAndGlyphs" >[Docetaxel], nmol/L</text>
<text transform="translate(186.1,429.1) rotate(-90)" font-size="10" text-anchor="middle" textLength="144" lengthAdjust="spacingAndGlyphs">Cell proliferation (% control)</text>
<line x1="223.30767622026974" y1="381.7083333333333" x2="223.30767622026974" y2="377.29499999999996" stroke="#000" stroke-width="0.9" />
<line x1="221.70767622026975" y1="377.29499999999996" x2="224.90767622026974" y2="377.29499999999996" stroke="#000" stroke-width="0.9" />
<line x1="238.6" y1="398.80999999999995" x2="238.6" y2="392.18999999999994" stroke="#000" stroke-width="0.9" />
<line x1="237.0" y1="392.18999999999994" x2="240.2" y2="392.18999999999994" stroke="#000" stroke-width="0.9" />
<line x1="238.6" y1="398.80999999999995" x2="238.6" y2="405.42999999999995" stroke="#000" stroke-width="0.9" />
<line x1="237.0" y1="405.42999999999995" x2="240.2" y2="405.42999999999995" stroke="#000" stroke-width="0.9" />
<line x1="258.8153524405395" y1="411.1673333333333" x2="258.8153524405395" y2="416.68399999999997" stroke="#000" stroke-width="0.9" />
<line x1="257.2153524405395" y1="416.68399999999997" x2="260.41535244053955" y2="416.68399999999997" stroke="#000" stroke-width="0.9" />
<line x1="274.10767622026975" y1="419.4423333333333" x2="274.10767622026975" y2="428.269" stroke="#000" stroke-width="0.9" />
<line x1="272.50767622026973" y1="428.269" x2="275.7076762202698" y2="428.269" stroke="#000" stroke-width="0.9" />
<line x1="289.4" y1="474.94" x2="289.4" y2="465.01" stroke="#000" stroke-width="0.9" />
<line x1="287.79999999999995" y1="465.01" x2="291.0" y2="465.01" stroke="#000" stroke-width="0.9" />
<line x1="289.4" y1="474.94" x2="289.4" y2="484.87" stroke="#000" stroke-width="0.9" />
<line x1="287.79999999999995" y1="484.87" x2="291.0" y2="484.87" stroke="#000" stroke-width="0.9" />
<line x1="289.4" y1="435.21999999999997" x2="289.4" y2="428.6" stroke="#000" stroke-width="0.9" />
<line x1="287.79999999999995" y1="428.6" x2="291.0" y2="428.6" stroke="#000" stroke-width="0.9" />
<line x1="309.6153524405395" y1="455.63166666666666" x2="309.6153524405395" y2="450.115" stroke="#000" stroke-width="0.9" />
<line x1="308.01535244053946" y1="450.115" x2="311.2153524405395" y2="450.115" stroke="#000" stroke-width="0.9" />
<line x1="324.90767622026976" y1="473.06433333333337" x2="324.90767622026976" y2="477.47766666666666" stroke="#000" stroke-width="0.9" />
<line x1="323.30767622026974" y1="477.47766666666666" x2="326.5076762202698" y2="477.47766666666666" stroke="#000" stroke-width="0.9" />
<line x1="324.90767622026976" y1="436.3233333333333" x2="324.90767622026976" y2="441.84" stroke="#000" stroke-width="0.9" />
<line x1="323.30767622026974" y1="441.84" x2="326.5076762202698" y2="441.84" stroke="#000" stroke-width="0.9" />
<path d="M223.31,384.47C225.86,386.86 232.68,395.13 238.60,398.81C244.52,402.49 252.90,400.32 258.82,406.53C264.73,412.75 269.01,424.70 274.11,436.10C279.21,447.50 283.48,468.82 289.40,474.94C295.32,481.06 303.70,473.16 309.62,472.84C315.53,472.53 322.36,473.03 324.91,473.06" fill="none" stroke="#000" stroke-width="1.45"/>
<path d="M223.31,381.71C225.86,384.56 232.68,395.10 238.60,398.81C244.52,402.52 252.90,402.47 258.82,404.00C264.73,405.52 269.01,402.84 274.11,407.97C279.21,413.10 283.48,430.09 289.40,434.78C295.32,439.47 303.70,435.79 309.62,436.10C315.53,436.42 322.36,436.56 324.91,436.65" fill="none" stroke="#000" stroke-width="1.45"/>
<path d="M223.31,381.71C225.86,384.56 232.68,393.90 238.60,398.81C244.52,403.72 252.90,408.83 258.82,411.17C264.73,413.50 269.01,408.67 274.11,412.82C279.21,416.98 283.48,432.31 289.40,436.10C295.32,439.89 303.70,435.86 309.62,435.55C315.53,435.24 322.36,434.45 324.91,434.23" fill="none" stroke="#000" stroke-width="1.45"/>
<path d="M223.31,398.04C225.86,398.13 232.68,398.63 238.60,398.59C244.52,398.55 252.90,394.34 258.82,397.82C264.73,401.29 269.01,410.03 274.11,419.44C279.21,428.86 283.48,448.28 289.40,454.31C295.32,460.34 303.70,453.88 309.62,455.63C315.53,457.38 322.36,463.26 324.91,464.79" fill="none" stroke="#000" stroke-width="1.45"/>
<rect x="220.46" y="381.62" width="5.70" height="5.70" fill="#000"/>
<rect x="235.75" y="395.96" width="5.70" height="5.70" fill="#000"/>
<rect x="255.97" y="403.68" width="5.70" height="5.70" fill="#000"/>
<rect x="271.26" y="433.25" width="5.70" height="5.70" fill="#000"/>
<rect x="286.55" y="472.09" width="5.70" height="5.70" fill="#000"/>
<rect x="306.77" y="469.99" width="5.70" height="5.70" fill="#000"/>
<rect x="322.06" y="470.21" width="5.70" height="5.70" fill="#000"/>
<circle cx="223.31" cy="381.71" r="3.00" fill="#8a8a8a" stroke="#000" stroke-width="1.25"/>
<circle cx="238.60" cy="398.81" r="3.00" fill="#8a8a8a" stroke="#000" stroke-width="1.25"/>
<circle cx="258.82" cy="404.00" r="3.00" fill="#8a8a8a" stroke="#000" stroke-width="1.25"/>
<circle cx="274.11" cy="407.97" r="3.00" fill="#8a8a8a" stroke="#000" stroke-width="1.25"/>
<circle cx="289.40" cy="434.78" r="3.00" fill="#8a8a8a" stroke="#000" stroke-width="1.25"/>
<circle cx="309.62" cy="436.10" r="3.00" fill="#8a8a8a" stroke="#000" stroke-width="1.25"/>
<circle cx="324.91" cy="436.65" r="3.00" fill="#8a8a8a" stroke="#000" stroke-width="1.25"/>
<path d="M219.11,385.28L223.31,377.72L227.51,385.28Z" fill="#b9b9b9" stroke="#000" stroke-width="1.25"/>
<path d="M234.40,402.38L238.60,394.82L242.80,402.38Z" fill="#b9b9b9" stroke="#000" stroke-width="1.25"/>
<path d="M254.62,414.74L258.82,407.18L263.02,414.74Z" fill="#b9b9b9" stroke="#000" stroke-width="1.25"/>
<path d="M269.91,416.39L274.11,408.83L278.31,416.39Z" fill="#b9b9b9" stroke="#000" stroke-width="1.25"/>
<path d="M285.20,439.67L289.40,432.11L293.60,439.67Z" fill="#b9b9b9" stroke="#000" stroke-width="1.25"/>
<path d="M305.42,439.12L309.62,431.56L313.82,439.12Z" fill="#b9b9b9" stroke="#000" stroke-width="1.25"/>
<path d="M320.71,437.80L324.91,430.24L329.11,437.80Z" fill="#b9b9b9" stroke="#000" stroke-width="1.25"/>
<path d="M219.41,398.04L223.31,394.14L227.21,398.04L223.31,401.94Z" fill="#fff" stroke="#000" stroke-width="1.25"/>
<path d="M234.70,398.59L238.60,394.69L242.50,398.59L238.60,402.49Z" fill="#fff" stroke="#000" stroke-width="1.25"/>
<path d="M254.92,397.82L258.82,393.92L262.72,397.82L258.82,401.72Z" fill="#fff" stroke="#000" stroke-width="1.25"/>
<path d="M270.21,419.44L274.11,415.54L278.01,419.44L274.11,423.34Z" fill="#fff" stroke="#000" stroke-width="1.25"/>
<path d="M285.50,454.31L289.40,450.41L293.30,454.31L289.40,458.21Z" fill="#fff" stroke="#000" stroke-width="1.25"/>
<path d="M305.72,455.63L309.62,451.73L313.52,455.63L309.62,459.53Z" fill="#fff" stroke="#000" stroke-width="1.25"/>
<path d="M321.01,464.79L324.91,460.89L328.81,464.79L324.91,468.69Z" fill="#fff" stroke="#000" stroke-width="1.25"/>
<line x1="386" y1="361.9" x2="386" y2="495.3" stroke="#000" stroke-width="1.2" />
<line x1="385.5" y1="494.8" x2="511.5" y2="494.8" stroke="#000" stroke-width="1.2" />
<line x1="382.5" y1="494.8" x2="386" y2="494.8" stroke="#000" stroke-width="1.2" />
<text x="381.5" y="498.5" font-size="10" text-anchor="end" fill="#000" >0</text>
<line x1="382.5" y1="472.73333333333335" x2="386" y2="472.73333333333335" stroke="#000" stroke-width="1.2" />
<text x="381.5" y="476.43333333333334" font-size="10" text-anchor="end" fill="#000" >20</text>
<line x1="382.5" y1="450.6666666666667" x2="386" y2="450.6666666666667" stroke="#000" stroke-width="1.2" />
<text x="381.5" y="454.3666666666667" font-size="10" text-anchor="end" fill="#000" >40</text>
<line x1="382.5" y1="428.6" x2="386" y2="428.6" stroke="#000" stroke-width="1.2" />
<text x="381.5" y="432.3" font-size="10" text-anchor="end" fill="#000" >60</text>
<line x1="382.5" y1="406.5333333333333" x2="386" y2="406.5333333333333" stroke="#000" stroke-width="1.2" />
<text x="381.5" y="410.2333333333333" font-size="10" text-anchor="end" fill="#000" >80</text>
<line x1="382.5" y1="384.46666666666664" x2="386" y2="384.46666666666664" stroke="#000" stroke-width="1.2" />
<text x="381.5" y="388.16666666666663" font-size="10" text-anchor="end" fill="#000" >100</text>
<line x1="382.5" y1="362.4" x2="386" y2="362.4" stroke="#000" stroke-width="1.2" />
<text x="381.5" y="366.09999999999997" font-size="10" text-anchor="end" fill="#000" >120</text>
<line x1="388.2" y1="496.3" x2="389.7" y2="493.0" stroke="#000" stroke-width="0.7" />
<line x1="390.2" y1="496.3" x2="391.7" y2="493.0" stroke="#000" stroke-width="0.7" />
<line x1="394.73777921983617" y1="494.8" x2="394.73777921983617" y2="498.6" stroke="#000" stroke-width="1.05" />
<line x1="398.7522683944507" y1="494.8" x2="398.7522683944507" y2="498.2" stroke="#000" stroke-width="1.05" />
<line x1="402.1464706287228" y1="494.8" x2="402.1464706287228" y2="498.2" stroke="#000" stroke-width="1.05" />
<line x1="405.08666234049156" y1="494.8" x2="405.08666234049156" y2="498.2" stroke="#000" stroke-width="1.05" />
<line x1="407.68009522857375" y1="494.8" x2="407.68009522857375" y2="498.2" stroke="#000" stroke-width="1.05" />
<line x1="410.0" y1="494.8" x2="410.0" y2="498.6" stroke="#000" stroke-width="1.05" />
<line x1="425.26222078016383" y1="494.8" x2="425.26222078016383" y2="498.2" stroke="#000" stroke-width="1.05" />
<line x1="434.19004761428687" y1="494.8" x2="434.19004761428687" y2="498.2" stroke="#000" stroke-width="1.05" />
<line x1="440.5244415603277" y1="494.8" x2="440.5244415603277" y2="498.2" stroke="#000" stroke-width="1.05" />
<line x1="445.43777921983616" y1="494.8" x2="445.43777921983616" y2="498.2" stroke="#000" stroke-width="1.05" />
<line x1="449.45226839445075" y1="494.8" x2="449.45226839445075" y2="498.2" stroke="#000" stroke-width="1.05" />
<line x1="452.84647062872284" y1="494.8" x2="452.84647062872284" y2="498.2" stroke="#000" stroke-width="1.05" />
<line x1="455.78666234049155" y1="494.8" x2="455.78666234049155" y2="498.2" stroke="#000" stroke-width="1.05" />
<line x1="458.3800952285738" y1="494.8" x2="458.3800952285738" y2="498.2" stroke="#000" stroke-width="1.05" />
<line x1="460.7" y1="494.8" x2="460.7" y2="498.6" stroke="#000" stroke-width="1.05" />
<line x1="475.9622207801639" y1="494.8" x2="475.9622207801639" y2="498.2" stroke="#000" stroke-width="1.05" />
<line x1="484.8900476142869" y1="494.8" x2="484.8900476142869" y2="498.2" stroke="#000" stroke-width="1.05" />
<line x1="491.2244415603277" y1="494.8" x2="491.2244415603277" y2="498.2" stroke="#000" stroke-width="1.05" />
<line x1="496.13777921983615" y1="494.8" x2="496.13777921983615" y2="498.2" stroke="#000" stroke-width="1.05" />
<line x1="500.15226839445074" y1="494.8" x2="500.15226839445074" y2="498.2" stroke="#000" stroke-width="1.05" />
<line x1="503.54647062872283" y1="494.8" x2="503.54647062872283" y2="498.2" stroke="#000" stroke-width="1.05" />
<line x1="506.48666234049153" y1="494.8" x2="506.48666234049153" y2="498.2" stroke="#000" stroke-width="1.05" />
<line x1="509.0800952285738" y1="494.8" x2="509.0800952285738" y2="498.2" stroke="#000" stroke-width="1.05" />
<line x1="511.4" y1="494.8" x2="511.4" y2="498.6" stroke="#000" stroke-width="1.05" />
<text x="394.93777921983616" y="509.2" font-size="10" text-anchor="middle" fill="#000" >0.5</text>
<text x="409.1" y="509.2" font-size="10" text-anchor="middle" fill="#000" >1</text>
<text x="460.7" y="509.2" font-size="10" text-anchor="middle" fill="#000" >10</text>
<text x="510.9" y="509.2" font-size="10" text-anchor="middle" fill="#000" >100</text>
<text x="450.8" y="521.3000000000001" font-size="10" text-anchor="middle" fill="#000" textLength="105" lengthAdjust="spacingAndGlyphs" >[Vinorelbine], nmol/L</text>
<text transform="translate(357.6,429.1) rotate(-90)" font-size="10" text-anchor="middle" textLength="144" lengthAdjust="spacingAndGlyphs">Cell proliferation (% control)</text>
<line x1="394.73777921983617" y1="383.3633333333333" x2="394.73777921983617" y2="376.7433333333333" stroke="#000" stroke-width="0.9" />
<line x1="393.13777921983615" y1="376.7433333333333" x2="396.3377792198362" y2="376.7433333333333" stroke="#000" stroke-width="0.9" />
<line x1="410.0" y1="401.789" x2="410.0" y2="391.859" stroke="#000" stroke-width="0.9" />
<line x1="408.4" y1="391.859" x2="411.6" y2="391.859" stroke="#000" stroke-width="0.9" />
<line x1="430.17555843967233" y1="425.952" x2="430.17555843967233" y2="419.332" stroke="#000" stroke-width="0.9" />
<line x1="428.5755584396723" y1="419.332" x2="431.77555843967235" y2="419.332" stroke="#000" stroke-width="0.9" />
<line x1="460.7" y1="454.30766666666665" x2="460.7" y2="464.23766666666666" stroke="#000" stroke-width="0.9" />
<line x1="459.09999999999997" y1="464.23766666666666" x2="462.3" y2="464.23766666666666" stroke="#000" stroke-width="0.9" />
<line x1="460.7" y1="418.66999999999996" x2="460.7" y2="413.1533333333333" stroke="#000" stroke-width="0.9" />
<line x1="459.09999999999997" y1="413.1533333333333" x2="462.3" y2="413.1533333333333" stroke="#000" stroke-width="0.9" />
<line x1="480.8755584396723" y1="454.087" x2="480.8755584396723" y2="448.57033333333334" stroke="#000" stroke-width="0.9" />
<line x1="479.2755584396723" y1="448.57033333333334" x2="482.47555843967234" y2="448.57033333333334" stroke="#000" stroke-width="0.9" />
<line x1="480.8755584396723" y1="435.882" x2="480.8755584396723" y2="442.502" stroke="#000" stroke-width="0.9" />
<line x1="479.2755584396723" y1="442.502" x2="482.47555843967234" y2="442.502" stroke="#000" stroke-width="0.9" />
<line x1="496.13777921983615" y1="468.54066666666665" x2="496.13777921983615" y2="463.024" stroke="#000" stroke-width="0.9" />
<line x1="494.5377792198361" y1="463.024" x2="497.73777921983617" y2="463.024" stroke="#000" stroke-width="0.9" />
<line x1="496.13777921983615" y1="468.54066666666665" x2="496.13777921983615" y2="474.05733333333336" stroke="#000" stroke-width="0.9" />
<line x1="494.5377792198361" y1="474.05733333333336" x2="497.73777921983617" y2="474.05733333333336" stroke="#000" stroke-width="0.9" />
<path d="M394.74,383.80C397.28,389.30 404.09,409.77 410.00,416.79C415.91,423.82 424.27,419.52 430.18,425.95C436.08,432.39 440.35,450.69 445.44,455.41C450.53,460.14 454.79,452.16 460.70,454.31C466.61,456.46 474.97,465.95 480.88,468.32C486.78,470.69 493.59,468.50 496.14,468.54" fill="none" stroke="#000" stroke-width="1.45"/>
<path d="M394.74,394.07C397.28,397.28 404.09,406.02 410.00,413.37C415.91,420.73 424.27,433.16 430.18,438.20C436.08,443.24 440.35,442.83 445.44,443.61C450.53,444.38 454.79,441.09 460.70,442.83C466.61,444.58 474.97,451.71 480.88,454.09C486.78,456.46 493.59,456.57 496.14,457.07" fill="none" stroke="#000" stroke-width="1.45"/>
<path d="M394.74,397.27C397.28,398.17 404.09,400.89 410.00,402.67C415.91,404.46 424.27,402.49 430.18,407.97C436.08,413.45 440.35,430.99 445.44,435.55C450.53,440.11 454.79,435.28 460.70,435.33C466.61,435.39 474.97,434.32 480.88,435.88C486.78,437.45 493.59,443.24 496.14,444.71" fill="none" stroke="#000" stroke-width="1.45"/>
<path d="M394.74,383.36C397.28,386.43 404.09,396.88 410.00,401.79C415.91,406.70 424.27,410.01 430.18,412.82C436.08,415.64 440.35,417.70 445.44,418.67C450.53,419.64 454.79,417.01 460.70,418.67C466.61,420.32 474.97,426.01 480.88,428.60C486.78,431.19 493.59,433.29 496.14,434.23" fill="none" stroke="#000" stroke-width="1.45"/>
<rect x="391.89" y="380.95" width="5.70" height="5.70" fill="#000"/>
<rect x="407.15" y="413.94" width="5.70" height="5.70" fill="#000"/>
<rect x="427.33" y="423.10" width="5.70" height="5.70" fill="#000"/>
<rect x="442.59" y="452.56" width="5.70" height="5.70" fill="#000"/>
<rect x="457.85" y="451.46" width="5.70" height="5.70" fill="#000"/>
<rect x="478.03" y="465.47" width="5.70" height="5.70" fill="#000"/>
<rect x="493.29" y="465.69" width="5.70" height="5.70" fill="#000"/>
<path d="M390.84,394.07L394.74,390.17L398.64,394.07L394.74,397.97Z" fill="#fff" stroke="#000" stroke-width="1.25"/>
<path d="M406.10,413.37L410.00,409.47L413.90,413.37L410.00,417.27Z" fill="#fff" stroke="#000" stroke-width="1.25"/>
<path d="M426.28,438.20L430.18,434.30L434.08,438.20L430.18,442.10Z" fill="#fff" stroke="#000" stroke-width="1.25"/>
<path d="M441.54,443.61L445.44,439.71L449.34,443.61L445.44,447.51Z" fill="#fff" stroke="#000" stroke-width="1.25"/>
<path d="M456.80,442.83L460.70,438.93L464.60,442.83L460.70,446.73Z" fill="#fff" stroke="#000" stroke-width="1.25"/>
<path d="M476.98,454.09L480.88,450.19L484.78,454.09L480.88,457.99Z" fill="#fff" stroke="#000" stroke-width="1.25"/>
<path d="M492.24,457.07L496.14,453.17L500.04,457.07L496.14,460.97Z" fill="#fff" stroke="#000" stroke-width="1.25"/>
<circle cx="394.74" cy="397.27" r="3.00" fill="#8a8a8a" stroke="#000" stroke-width="1.25"/>
<circle cx="410.00" cy="402.67" r="3.00" fill="#8a8a8a" stroke="#000" stroke-width="1.25"/>
<circle cx="430.18" cy="407.97" r="3.00" fill="#8a8a8a" stroke="#000" stroke-width="1.25"/>
<circle cx="445.44" cy="435.55" r="3.00" fill="#8a8a8a" stroke="#000" stroke-width="1.25"/>
<circle cx="460.70" cy="435.33" r="3.00" fill="#8a8a8a" stroke="#000" stroke-width="1.25"/>
<circle cx="480.88" cy="435.88" r="3.00" fill="#8a8a8a" stroke="#000" stroke-width="1.25"/>
<circle cx="496.14" cy="444.71" r="3.00" fill="#8a8a8a" stroke="#000" stroke-width="1.25"/>
<path d="M390.54,386.93L394.74,379.37L398.94,386.93Z" fill="#b9b9b9" stroke="#000" stroke-width="1.25"/>
<path d="M405.80,405.36L410.00,397.80L414.20,405.36Z" fill="#b9b9b9" stroke="#000" stroke-width="1.25"/>
<path d="M425.98,416.39L430.18,408.83L434.38,416.39Z" fill="#b9b9b9" stroke="#000" stroke-width="1.25"/>
<path d="M441.24,422.24L445.44,414.68L449.64,422.24Z" fill="#b9b9b9" stroke="#000" stroke-width="1.25"/>
<path d="M456.50,422.24L460.70,414.68L464.90,422.24Z" fill="#b9b9b9" stroke="#000" stroke-width="1.25"/>
<path d="M476.68,432.17L480.88,424.61L485.08,432.17Z" fill="#b9b9b9" stroke="#000" stroke-width="1.25"/>
<path d="M491.94,437.80L496.14,430.24L500.34,437.80Z" fill="#b9b9b9" stroke="#000" stroke-width="1.25"/>
<text x="5.2" y="545" font-size="16.5" text-anchor="start" fill="#000" >D</text>
<line x1="100.7" y1="561.0" x2="100.7" y2="686.5" stroke="#000" stroke-width="1.2" />
<line x1="100.2" y1="686" x2="426.5" y2="686" stroke="#000" stroke-width="1.2" />
<line x1="96.7" y1="686.0" x2="100.7" y2="686.0" stroke="#000" stroke-width="1.2" />
<text x="95.7" y="689.7" font-size="10" text-anchor="end" fill="#000" >0</text>
<line x1="96.7" y1="661.1" x2="100.7" y2="661.1" stroke="#000" stroke-width="1.2" />
<text x="95.7" y="664.8000000000001" font-size="10" text-anchor="end" fill="#000" >20</text>
<line x1="96.7" y1="636.2" x2="100.7" y2="636.2" stroke="#000" stroke-width="1.2" />
<text x="95.7" y="639.9000000000001" font-size="10" text-anchor="end" fill="#000" >40</text>
<line x1="96.7" y1="611.3" x2="100.7" y2="611.3" stroke="#000" stroke-width="1.2" />
<text x="95.7" y="615.0" font-size="10" text-anchor="end" fill="#000" >60</text>
<line x1="96.7" y1="586.4" x2="100.7" y2="586.4" stroke="#000" stroke-width="1.2" />
<text x="95.7" y="590.1" font-size="10" text-anchor="end" fill="#000" >80</text>
<line x1="96.7" y1="561.5" x2="100.7" y2="561.5" stroke="#000" stroke-width="1.2" />
<text x="95.7" y="565.2" font-size="10" text-anchor="end" fill="#000" >100</text>
<text transform="translate(75.3,623) rotate(-90)" font-size="10" text-anchor="middle" textLength="98" lengthAdjust="spacingAndGlyphs">Cell percentage (%)</text>
<rect x="209.50" y="539.70" width="7.20" height="7.20" fill="#000" stroke="#000" stroke-width="0.6"/>
<text x="219" y="546.5" font-size="10">G<tspan font-size="6.5" dy="2">0</tspan><tspan dy="-2">/G</tspan><tspan font-size="6.5" dy="2">1</tspan></text>
<rect x="254.60" y="540.00" width="7.00" height="7.00" fill="#fff" stroke="#000" stroke-width="1"/>
<text x="264" y="546.5" font-size="10" text-anchor="start" fill="#000" >S</text>
<rect x="283.50" y="539.90" width="7.00" height="7.00" fill="#f00" stroke="#000" stroke-width="0.8"/>
<text x="292.5" y="546.5" font-size="10">G<tspan font-size="6.5" dy="2">2</tspan><tspan dy="-2">/M</tspan></text>
<rect x="107.05" y="559.40" width="12.40" height="126.60" fill="#f00"/>
<rect x="107.05" y="573.75" width="12.40" height="11.25" fill="#fff" stroke="#000" stroke-width="1.0"/>
<rect x="107.05" y="585.00" width="12.40" height="101.00" fill="#000"/>
<rect x="107.05" y="559.40" width="12.4" height="126.60" fill="none" stroke="#000" stroke-width="1.1"/>
<text x="113.25" y="699" font-size="10" text-anchor="middle" fill="#000" >C</text>
<rect x="123.95" y="559.40" width="12.40" height="126.60" fill="#f00"/>
<rect x="123.95" y="623.75" width="12.40" height="14.25" fill="#fff" stroke="#000" stroke-width="1.0"/>
<rect x="123.95" y="638.00" width="12.40" height="48.00" fill="#000"/>
<rect x="123.95" y="559.40" width="12.4" height="126.60" fill="none" stroke="#000" stroke-width="1.1"/>
<text x="130.14999999999998" y="699" font-size="10" text-anchor="middle" fill="#000" >M</text>
<rect x="140.85" y="559.40" width="12.40" height="126.60" fill="#f00"/>
<rect x="140.85" y="663.25" width="12.40" height="9.75" fill="#fff" stroke="#000" stroke-width="1.0"/>
<rect x="140.85" y="673.00" width="12.40" height="13.00" fill="#000"/>
<rect x="140.85" y="559.40" width="12.4" height="126.60" fill="none" stroke="#000" stroke-width="1.1"/>
<text x="147.04999999999998" y="699" font-size="10" text-anchor="middle" fill="#000" >D</text>
<rect x="157.75" y="559.40" width="12.40" height="126.60" fill="#f00"/>
<rect x="157.75" y="661.75" width="12.40" height="10.25" fill="#fff" stroke="#000" stroke-width="1.0"/>
<rect x="157.75" y="672.00" width="12.40" height="14.00" fill="#000"/>
<rect x="157.75" y="559.40" width="12.4" height="126.60" fill="none" stroke="#000" stroke-width="1.1"/>
<text x="163.95" y="699" font-size="10" text-anchor="middle" fill="#000" >V</text>
<line x1="109.5" y1="704" x2="168.0" y2="704" stroke="#444" stroke-width="0.9" />
<text x="138.7" y="718" font-size="10" text-anchor="middle" fill="#000" >BT474</text>
<rect x="189.85" y="559.40" width="12.40" height="126.60" fill="#f00"/>
<rect x="189.85" y="573.25" width="12.40" height="13.50" fill="#fff" stroke="#000" stroke-width="1.0"/>
<rect x="189.85" y="586.75" width="12.40" height="99.25" fill="#000"/>
<rect x="189.85" y="559.40" width="12.4" height="126.60" fill="none" stroke="#000" stroke-width="1.1"/>
<text x="196.05" y="699" font-size="10" text-anchor="middle" fill="#000" >C</text>
<rect x="206.75" y="559.40" width="12.40" height="126.60" fill="#f00"/>
<rect x="206.75" y="640.75" width="12.40" height="18.00" fill="#fff" stroke="#000" stroke-width="1.0"/>
<rect x="206.75" y="658.75" width="12.40" height="27.25" fill="#000"/>
<rect x="206.75" y="559.40" width="12.4" height="126.60" fill="none" stroke="#000" stroke-width="1.1"/>
<text x="212.95000000000002" y="699" font-size="10" text-anchor="middle" fill="#000" >M</text>
<rect x="223.65" y="559.40" width="12.40" height="126.60" fill="#f00"/>
<rect x="223.65" y="663.25" width="12.40" height="10.00" fill="#fff" stroke="#000" stroke-width="1.0"/>
<rect x="223.65" y="673.25" width="12.40" height="12.75" fill="#000"/>
<rect x="223.65" y="559.40" width="12.4" height="126.60" fill="none" stroke="#000" stroke-width="1.1"/>
<text x="229.85000000000002" y="699" font-size="10" text-anchor="middle" fill="#000" >D</text>
<rect x="240.55" y="559.40" width="12.40" height="126.60" fill="#f00"/>
<rect x="240.55" y="668.00" width="12.40" height="8.75" fill="#fff" stroke="#000" stroke-width="1.0"/>
<rect x="240.55" y="676.75" width="12.40" height="9.25" fill="#000"/>
<rect x="240.55" y="559.40" width="12.4" height="126.60" fill="none" stroke="#000" stroke-width="1.1"/>
<text x="246.75" y="699" font-size="10" text-anchor="middle" fill="#000" >V</text>
<line x1="192.3" y1="704" x2="250.8" y2="704" stroke="#444" stroke-width="0.9" />
<text x="221.5" y="718" font-size="10" text-anchor="middle" fill="#000" >C#1</text>
<rect x="271.95" y="559.40" width="12.40" height="126.60" fill="#f00"/>
<rect x="271.95" y="574.50" width="12.40" height="13.00" fill="#fff" stroke="#000" stroke-width="1.0"/>
<rect x="271.95" y="587.50" width="12.40" height="98.50" fill="#000"/>
<rect x="271.95" y="559.40" width="12.4" height="126.60" fill="none" stroke="#000" stroke-width="1.1"/>
<text x="278.15" y="699" font-size="10" text-anchor="middle" fill="#000" >C</text>
<rect x="288.85" y="559.40" width="12.40" height="126.60" fill="#f00"/>
<rect x="288.85" y="617.00" width="12.40" height="15.00" fill="#fff" stroke="#000" stroke-width="1.0"/>
<rect x="288.85" y="632.00" width="12.40" height="54.00" fill="#000"/>
<rect x="288.85" y="559.40" width="12.4" height="126.60" fill="none" stroke="#000" stroke-width="1.1"/>
<text x="295.04999999999995" y="699" font-size="10" text-anchor="middle" fill="#000" >M</text>
<rect x="305.75" y="559.40" width="12.40" height="126.60" fill="#f00"/>
<rect x="305.75" y="651.25" width="12.40" height="9.50" fill="#fff" stroke="#000" stroke-width="1.0"/>
<rect x="305.75" y="660.75" width="12.40" height="25.25" fill="#000"/>
<rect x="305.75" y="559.40" width="12.4" height="126.60" fill="none" stroke="#000" stroke-width="1.1"/>
<text x="311.95" y="699" font-size="10" text-anchor="middle" fill="#000" >D</text>
<rect x="322.65" y="559.40" width="12.40" height="126.60" fill="#f00"/>
<rect x="322.65" y="617.50" width="12.40" height="5.00" fill="#fff" stroke="#000" stroke-width="1.0"/>
<rect x="322.65" y="622.50" width="12.40" height="63.50" fill="#000"/>
<rect x="322.65" y="559.40" width="12.4" height="126.60" fill="none" stroke="#000" stroke-width="1.1"/>
<text x="328.84999999999997" y="699" font-size="10" text-anchor="middle" fill="#000" >V</text>
<line x1="274.4" y1="704" x2="332.9" y2="704" stroke="#444" stroke-width="0.9" />
<text x="303.59999999999997" y="718" font-size="10" text-anchor="middle" fill="#000" >C#3</text>
<rect x="354.35" y="559.40" width="12.40" height="126.60" fill="#f00"/>
<rect x="354.35" y="576.75" width="12.40" height="15.00" fill="#fff" stroke="#000" stroke-width="1.0"/>
<rect x="354.35" y="591.75" width="12.40" height="94.25" fill="#000"/>
<rect x="354.35" y="559.40" width="12.4" height="126.60" fill="none" stroke="#000" stroke-width="1.1"/>
<text x="360.55" y="699" font-size="10" text-anchor="middle" fill="#000" >C</text>
<rect x="371.25" y="559.40" width="12.40" height="126.60" fill="#f00"/>
<rect x="371.25" y="645.00" width="12.40" height="11.25" fill="#fff" stroke="#000" stroke-width="1.0"/>
<rect x="371.25" y="656.25" width="12.40" height="29.75" fill="#000"/>
<rect x="371.25" y="559.40" width="12.4" height="126.60" fill="none" stroke="#000" stroke-width="1.1"/>
<text x="377.45" y="699" font-size="10" text-anchor="middle" fill="#000" >M</text>
<rect x="388.15" y="559.40" width="12.40" height="126.60" fill="#f00"/>
<rect x="388.15" y="659.00" width="12.40" height="8.50" fill="#fff" stroke="#000" stroke-width="1.0"/>
<rect x="388.15" y="667.50" width="12.40" height="18.50" fill="#000"/>
<rect x="388.15" y="559.40" width="12.4" height="126.60" fill="none" stroke="#000" stroke-width="1.1"/>
<text x="394.35" y="699" font-size="10" text-anchor="middle" fill="#000" >D</text>
<rect x="405.05" y="559.40" width="12.40" height="126.60" fill="#f00"/>
<rect x="405.05" y="663.00" width="12.40" height="7.50" fill="#fff" stroke="#000" stroke-width="1.0"/>
<rect x="405.05" y="670.50" width="12.40" height="15.50" fill="#000"/>
<rect x="405.05" y="559.40" width="12.4" height="126.60" fill="none" stroke="#000" stroke-width="1.1"/>
<text x="411.25" y="699" font-size="10" text-anchor="middle" fill="#000" >V</text>
<line x1="356.8" y1="704" x2="415.3" y2="704" stroke="#444" stroke-width="0.9" />
<text x="386.0" y="718" font-size="10" text-anchor="middle" fill="#000" >C#6</text>
</svg>
</body></html>
